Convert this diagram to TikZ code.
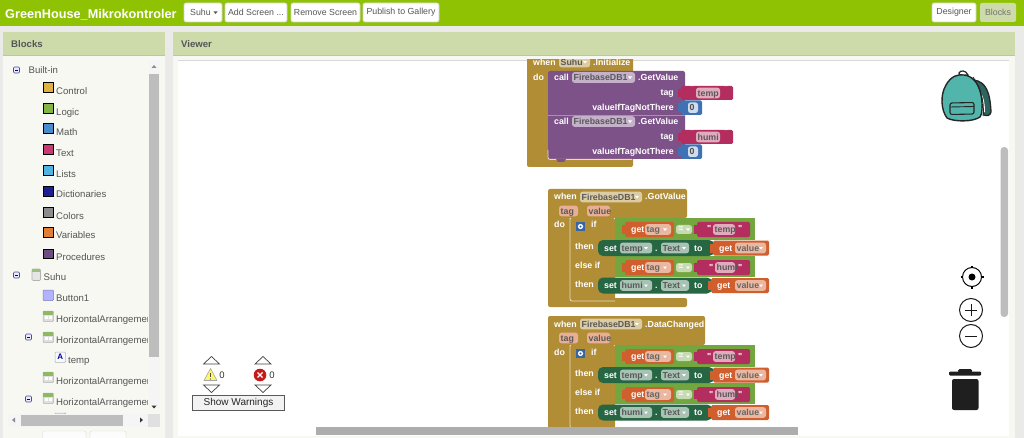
\documentclass[tikz,border=0pt]{standalone}
\usepackage{fontspec}
\setmainfont{Liberation Sans}
\definecolor{topgreen}{HTML}{8FC202}
\definecolor{pagebg}{HTML}{EAEAE8}
\definecolor{headgreen}{HTML}{CDDAAA}
\definecolor{panelbg}{HTML}{F6F8F1}
\definecolor{txtgrey}{HTML}{555555}
\definecolor{thumb}{HTML}{BDBDBD}
\definecolor{gold}{HTML}{B18E35}
\definecolor{purp}{HTML}{7D5289}
\definecolor{pinkb}{HTML}{B32D5E}
\definecolor{blueb}{HTML}{3F71B5}
\definecolor{greenb}{HTML}{73A63F}
\definecolor{orangeb}{HTML}{D05F2D}
\definecolor{tealb}{HTML}{266643}
\definecolor{teal2}{HTML}{52B5AB}
\newcount\nn
\tikzset{
 lbl/.style={inner sep=0pt,font=\fontsize{8.8}{10}\selectfont\bfseries,text=white,anchor=base west},
 lblr/.style={lbl,anchor=base east},
 tree/.style={inner sep=0pt,font=\fontsize{9.6}{12}\selectfont,text=txtgrey,anchor=base west},
 btn/.style={draw=black!18,fill=white,rounded corners=2pt,line width=.7pt,inner sep=0pt,
   font=\fontsize{8.8}{10}\selectfont,text=txtgrey,anchor=center},
 icon/.style={draw=black,line width=1pt},
 hh/.style={inner sep=0pt,font=\fontsize{9.6}{12}\selectfont\bfseries,text=txtgrey,anchor=base west},
 chev/.style={draw=black!75,fill=white,line width=.7pt,line join=miter}
}
\newcommand\lb[3]{\global\advance\nn by 1 \node[lbl] (n\the\nn) at (#1,#2) {#3};}
\newcommand\lbr[3]{\global\advance\nn by 1 \node[lblr] (n\the\nn) at (#1,#2) {#3};}
\newcommand\tr[3]{\global\advance\nn by 1 \node[tree] (n\the\nn) at (#1,#2) {#3};}
% box: x1 y1 x2 y2 fill
\newcommand\bx[5]{\fill[#5,rounded corners=1.5pt] (#1,#2) rectangle (#3,#4);}
% labelled pill: x1 x2 yc text fill textcolour
\newcommand\pl[6]{\fill[#5,rounded corners=2.5pt] (#1,#3-5.3) rectangle (#2,#3+5.3);
 \global\advance\nn by 1
 \node[inner sep=0pt,anchor=base west,font=\fontsize{8.8}{10}\selectfont\bfseries,text=#6] (n\the\nn) at (#1+1.5,#3+3.1) {#4};}
\newcommand\ar[2]{\fill[white] (#1-2,#2-1) -- (#1+2,#2-1) -- (#1,#2+1.5) -- cycle;}
\newcommand\tabl[4]{\fill[#4] (#1-3,#2+3) rectangle (#1+1,#3-3);}
% get block
\newcommand\getv[3]{% x1 x2 yc : get value
 \tabl{#1}{#3-7.5}{#3+7.5}{orangeb}
 \bx{#1}{#3-7.5}{#2}{#3+7.5}{orangeb}
 \lb{#1+6}{#3+3.2}{get}
 \pl{#2-34}{#2-3}{#3}{value}{orangeb!45!white}{black!60}\ar{#2-8}{#3}}
\newcommand\ifrow[4]{% y_center text pillx1 pillx2
 \tabl{625}{#1-7.5}{#1+7.5}{orangeb}
 \bx{625}{#1-7.5}{674}{#1+7.5}{orangeb}
 \lb{631}{#1+3.2}{get}
 \pl{645}{671}{#1}{tag}{orangeb!45!white}{black!60}\ar{665}{#1}
 \fill[greenb!40!white,rounded corners=2.5pt] (676,#1-4.5) rectangle (692,#1+4.5);
 \global\advance\nn by 1
 \node[inner sep=0pt,font=\fontsize{8.8}{10}\selectfont\bfseries,text=white] (n\the\nn) at (681,#1) {=};
 \ar{688}{#1}
 \tabl{697}{#1-7.5}{#1+7.5}{pinkb}
 \bx{697}{#1-7.5}{750}{#1+7.5}{pinkb}
 \pl{#3}{#4}{#1}{#2}{pinkb!40!white}{black!65}
 \lb{#3-6}{#1+2.5}{\textquotedbl}\lb{#4+3}{#1+2.5}{\textquotedbl}}
\newcommand\setrow[6]{% yc name namepillx2 dotx textx1 getx1
 \fill[tealb,rounded corners=5pt] (598,#1-8) rectangle (#6+1,#1+8);
 \lb{604}{#1+3.2}{set}
 \pl{620}{#3}{#1}{#2}{white!60!tealb}{black!65}\ar{#3-6}{#1}
 \lb{#4}{#1+3.2}{.}
 \pl{#5}{#5+28}{#1}{Text}{white!60!tealb}{black!65}\ar{#5+23}{#1}
 \lb{#5+33}{#1+3.2}{to}
 \getv{#6}{769}{#1}}
% event block; drawn at y of the GotValue block
\newcommand\evblock[3]{% event text, header right, bottom bar right
 \fill[gold,rounded corners=2pt] (548,189) rectangle (#2,218);
 \fill[gold] (548,210) rectangle (570,302);
 \fill[gold,rounded corners=2pt] (548,298) rectangle (#3,307);
 \lb{554}{200}{when}
 \pl{580}{642}{197}{FirebaseDB1}{gold!45!white}{black!65}\ar{637}{197}
 \lb{645}{200}{#1}
 \pl{559}{578}{211}{tag}{orangeb!50!white}{black!65}
 \pl{587}{610}{211}{value}{orangeb!50!white}{black!65}
 \lb{554}{228}{do}
 % if block
 \fill[gold,rounded corners=2pt] (570,218) rectangle (615,301);
 \draw[white!70!gold,line width=.8pt,rounded corners=2pt] (570,218) -- (570,301) -- (615,301);
 \fill[blueb!90!black] (576,222) rectangle (585,231);
 \fill[white] (580.5,226.5) circle (2.6);\fill[blueb!90!black] (580.5,226.5) circle (1.1);
 \lb{591}{228}{if}
 \lb{575}{249}{then}
 \lb{575}{268}{else if}
 \lb{575}{287}{then}
 \fill[greenb] (615,218) rectangle (755,240);
 \fill[greenb] (615,256) rectangle (755,277);
 \ifrow{229.5}{temp}{713}{735}
 \setrow{248}{temp}{652}{655}{661}{713}
 \ifrow{267.5}{humi}{715}{735}
 \setrow{285.5}{humi}{652}{655}{661}{711}
}
\begin{document}
\begin{tikzpicture}[x=1pt,y=-1pt]
\useasboundingbox (0,0) rectangle (1024,438);
\fill[pagebg] (0,0) rectangle (1024,438);
% top bar
\fill[topgreen] (0,0) rectangle (1024,26);
\node[inner sep=0pt,anchor=base west,text=white,font=\fontsize{12.7}{16}\selectfont\bfseries] (title) at (5,18.5) {GreenHouse\_Mikrokontroler};
\node[btn,minimum width=38pt,minimum height=19pt] (bsuhu) at (203,12.5) {};
\node[inner sep=0pt,font=\fontsize{8.8}{10}\selectfont,text=txtgrey,anchor=base west] (tsuhu) at (190,15.5) {Suhu};
\fill[txtgrey] (213.5,11.5) -- (217.5,11.5) -- (215.5,14) -- cycle;
\node[btn,minimum width=62pt,minimum height=19pt] (badd) at (256,12.5) {Add Screen ...};
\node[btn,minimum width=69pt,minimum height=19pt] (brem) at (325.5,12.5) {Remove Screen};
\node[btn,minimum width=76pt,minimum height=19pt] (bpub) at (401,12.5) {Publish to Gallery};
\node[btn,minimum width=44pt,minimum height=19pt] (bdes) at (954,12.5) {Designer};
\node[btn,draw=none,fill=headgreen,text=black!55,minimum width=36pt,minimum height=19pt] (bblo) at (998,12.5) {Blocks};
% panels
\fill[panelbg] (3,32) rectangle (165,438);
\fill[headgreen] (3,32) rectangle (165,55);
\draw[black!25,line width=.7pt] (3,55.3) -- (165,55.3);
\node[hh] (hblocks) at (11,47.5) {Blocks};
\fill[panelbg] (173,32) rectangle (1015,438);
\fill[headgreen] (173,32) rectangle (1015,55);
\draw[black!25,line width=.7pt] (173,55.3) -- (1015,55.3);
\node[hh] (hviewer) at (181,47.5) {Viewer};
\fill[white] (178,60) rectangle (1009,436);
\draw[black!15,line width=.5pt] (178,60) -- (1009,60);
% tree
\foreach \yy/\cc in {83/E0B040,104/84B544,124/4A8BCB,145/C83B72,166/4FB3E3,187/1F1F94,208/8C8C8C,228/E17D35,249/6F4C82}
 {\definecolor{tc}{HTML}{\cc}\filldraw[icon,fill=tc] (43.5,\yy) rectangle (53,\yy+9.5);}
\tr{56}{95}{Control}\tr{56}{116}{Logic}\tr{56}{136}{Math}\tr{56}{157}{Text}\tr{56}{178}{Lists}
\tr{56}{198}{Dictionaries}\tr{56}{219}{Colors}\tr{56}{239}{Variables}\tr{56}{260}{Procedures}
\tr{28.5}{74}{Built-in}\tr{43.5}{280}{Suhu}\tr{56}{301}{Button1}
\begin{scope}
\clip (20,300) rectangle (147.5,410);
\tr{56}{322}{HorizontalArrangement1}\tr{56}{343}{HorizontalArrangement2}\tr{68}{363}{temp}\tr{56}{384}{HorizontalArrangement3}\tr{56}{405}{HorizontalArrangement4}
\end{scope}
\foreach \xx/\yy in {16.5/70,16.5/275,28.5/337,28.5/399}{
 \filldraw[draw=blue!45!black!70,fill=blue!8,rounded corners=1pt,line width=.7pt] (\xx-3,\yy-3) rectangle (\xx+3,\yy+3);
 \draw[blue!45!black,line width=.7pt] (\xx-1.7,\yy) -- (\xx+1.7,\yy);}
% suhu icon
\filldraw[draw=black!30,fill=black!10,rounded corners=1pt,line width=.6pt] (32,269) rectangle (40.5,280.5);
\fill[greenb!70!white] (32.4,269.4) rectangle (40.1,271.5);
% button icon
\filldraw[draw=blue!40!black!50,fill=blue!30!white,rounded corners=1pt,line width=.5pt] (43,290) rectangle (53.5,300.5);
\foreach \yy in {311,332,372,393}{
 \filldraw[draw=black!30,fill=black!12,rounded corners=1pt,line width=.5pt] (43,\yy) rectangle (53.5,\yy+10.5);
 \fill[greenb!80!white] (43.4,\yy+.4) rectangle (53.1,\yy+3.5);
 \fill[white] (45,\yy+5) rectangle (47.8,\yy+8);\fill[white] (49,\yy+5) rectangle (51.8,\yy+8);}
\filldraw[draw=black!30,fill=blue!3,rounded corners=1pt,line width=.5pt] (55,352) rectangle (65.5,362.5);
\node[inner sep=0pt,text=blue!60!black,font=\fontsize{8}{9}\selectfont\bfseries] (iconA) at (60.2,357.2) {A};
\filldraw[draw=black!25,fill=blue!3,rounded corners=1pt,line width=.5pt] (55,413) rectangle (65.5,414);
% tree scrollbars
\fill[black!4] (149,60) rectangle (160,408);
\fill[thumb] (149,74) rectangle (159,357);
\fill[black!45] (154,65) -- (151.5,68) -- (156.5,68) -- cycle;
\fill[black!80] (154,408.5) -- (151.5,405.5) -- (156.5,405.5) -- cycle;
\fill[black!4] (8,414) rectangle (160,427);
\fill[thumb] (21,415) rectangle (123,425.5);
\fill[black!45] (12,420) -- (15,417.5) -- (15,422.5) -- cycle;
\fill[black!80] (143,420) -- (140,417.5) -- (140,422.5) -- cycle;
\fill[black!12] (148,414) rectangle (160,427);
\draw[black!15,fill=panelbg!80!black!5,rounded corners=2pt] (42.5,431) rectangle (86,440);
\draw[black!15,fill=panelbg!80!black!5,rounded corners=2pt] (90,431) rectangle (126,440);
% warnings
\foreach \xx in {211.5,263}{
 \draw[chev] (\xx-8,364) -- (\xx,356.5) -- (\xx+8,364) -- cycle;
 \draw[chev] (\xx-8,385) -- (\xx,392.5) -- (\xx+8,385) -- cycle;}
\filldraw[draw=black!35,fill=yellow!60!white,line width=.6pt,line join=round] (204,380.5) -- (210.5,368.5) -- (217,380.5) -- cycle;
\draw[black!70,line width=.9pt] (210.5,372.5) -- (210.5,377);
\fill[black!70] (210.5,379) circle (.55);
\fill[red!75!black!90] (260,375) circle (6.3);
\draw[white,line width=1.3pt] (257.5,372.5) -- (262.5,377.5) (262.5,372.5) -- (257.5,377.5);
\node[inner sep=0pt,font=\fontsize{9.5}{11}\selectfont,text=black!80] (wcount) at (222,375.5) {0};
\node[inner sep=0pt,font=\fontsize{9.5}{11}\selectfont,text=black!80] (ecount) at (272,375.5) {0};
\node[draw=black!65,fill=white!95!black,line width=1pt,minimum width=92pt,minimum height=15pt,inner sep=0pt,font=\fontsize{10}{12}\selectfont,text=black!85] (showw) at (238.5,403) {Show Warnings};
% Initialize block
\begin{scope}
\clip (178,60) rectangle (1009,436);
\fill[gold,rounded corners=2pt] (527,50) rectangle (633,167);
\fill[purp,rounded corners=2pt] (548,71) rectangle (685,159);
\draw[white!70!gold,line width=.8pt,rounded corners=2pt] (548,150) -- (548,159.4) -- (632,159.4);
\fill[purp] (556,159) -- (558,162) -- (564,162) -- (566,159) -- cycle;
\draw[white!35!purp,line width=.8pt] (548,115.5) -- (685,115.5);
\lb{533}{66}{when}
\pl{559}{590}{62}{Suhu}{gold!45!white}{black!65}\ar{585}{62}
\lb{593}{66}{.Initialize}
\lb{533}{81}{do}
\foreach \dy in {0,44}{
 \lb{554}{81+\dy}{call}
 \pl{572}{635}{77.5+\dy}{FirebaseDB1}{purp!45!white}{black!65}\ar{630}{77.5+\dy}
 \lb{638}{81+\dy}{.GetValue}
 \lbr{674}{96+\dy}{tag}
 \lbr{674}{110.5+\dy}{valueIfTagNotThere}
 \tabl{681}{86+\dy}{100+\dy}{pinkb}
 \tabl{681}{100.5+\dy}{115+\dy}{blueb}
 \bx{681}{100.5+\dy}{702}{115+\dy}{blueb}
 \bx{681}{86+\dy}{733}{100+\dy}{pinkb}
 \pl{688}{698}{107.7+\dy}{0}{white!75!blueb}{black!70}
}
\pl{696}{720}{93}{temp}{pinkb!40!white}{black!65}
\lb{690}{91}{\textquotedbl}\lb{724}{91}{\textquotedbl}
\pl{696}{720}{137}{humi}{pinkb!40!white}{black!65}
\lb{690}{135}{\textquotedbl}\lb{724}{135}{\textquotedbl}
% GotValue
\evblock{.GotValue}{687}{687}
% DataChanged
\begin{scope}[shift={(0,127)}]
\evblock{.DataChanged}{705}{615}
\end{scope}
\end{scope}
% viewer scrollbars
\fill[thumb,rounded corners=3.5pt] (1000.5,147) rectangle (1008,317);
\fill[black!32] (316,427) rectangle (798,434.5);
\fill[white] (178,434.5) rectangle (1009,436);
% backpack
\filldraw[draw=black!85,fill=teal2!55!black,line width=1.3pt,line join=round] (974,80) .. controls (986,82) and (990,92) .. (991,112) .. controls (990,116) and (987,116) .. (984,115) -- (974,80);
\fill[white] (977,88) .. controls (982,92) and (985,100) .. (985,112) -- (981,113) -- (977,88);
\filldraw[draw=black!85,fill=white,line width=1.2pt] (959,73) .. controls (960,70) and (966,70) .. (968,75) -- (960,76) -- cycle;
\filldraw[draw=black!85,fill=teal2,line width=1.4pt,line join=round] (946,85) .. controls (951,76) and (958,74) .. (964,75) .. controls (973,76) and (979,84) .. (981,95) .. controls (983,105) and (982,115) .. (980,117) .. controls (973,122) and (954,122) .. (947,118) .. controls (941,110) and (940,95) .. (946,85) -- cycle;
\draw[black!85,line width=.9pt] (973,77) .. controls (979,86) and (985,100) .. (983,116);
\filldraw[draw=black!85,fill=teal2,line width=1.1pt,rounded corners=2pt] (950,103) -- (974,102.5) -- (974,114) -- (950,114.5) -- cycle;
\draw[black!85,line width=.9pt] (950,107) -- (974,106.5);
% target
\draw[black,line width=1pt] (972,277) circle (9.5);
\draw[black,line width=1.2pt] (972,265.5) -- (972,268) (972,286) -- (972,288.5) (960.5,277) -- (963,277) (981,277) -- (983.5,277);
\fill[black] (972,277) circle (3.5);
% zoom
\draw[black!90,line width=1pt] (971,310) circle (11.5);
\draw[black!90,line width=1pt] (965,310) -- (977,310) (971,304) -- (971,316);
\draw[black!90,line width=1pt] (971,336) circle (11.5);
\draw[black!90,line width=1pt] (965,336) -- (977,336);
% trash
\fill[black!88,rounded corners=1pt] (949,371.5) rectangle (981,375.5);
\fill[black!88,rounded corners=1.5pt] (958,369) rectangle (972,373);
\fill[black!88,rounded corners=2pt] (952,379) -- (978.5,379) -- (978.5,410) -- (952,410) -- cycle;
\end{tikzpicture}
\end{document}
